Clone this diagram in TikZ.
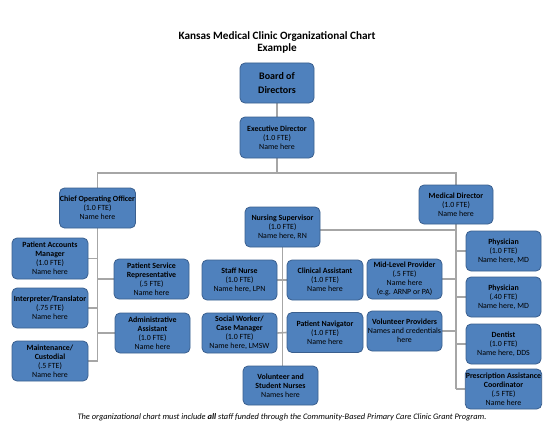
\documentclass[tikz,border=0pt]{standalone}
\usepackage{fontspec}
\setmainfont{Carlito}
\usetikzlibrary{backgrounds}
\definecolor{boxfill}{HTML}{4F81BD}
\definecolor{boxline}{HTML}{3A5F8E}
\definecolor{connline}{HTML}{A6A6A6}
\tikzset{
  orgbox/.style={draw=boxline, fill=boxfill, rounded corners=5pt, line width=0.8pt,
    minimum width=75pt, minimum height=40pt, inner sep=0.5pt, align=center,
    font=\fontsize{7.9}{9.1}\selectfont, text=black},
  conn/.style={draw=connline, line width=1.6pt},
}
\begin{document}
\begin{tikzpicture}[x=1pt,y=-1pt]
\useasboundingbox (0,0) rectangle (554,428);
% title
\node[align=center, font=\fontsize{11.2}{12.5}\selectfont\bfseries] (title) at (277,42.5)
  {Kansas Medical Clinic Organizational Chart\\Example};
% top
\node[orgbox, minimum width=74pt, font=\fontsize{10}{13.5}\selectfont\bfseries] (bod) at (277,83) {Board of\\Directors};
\node[orgbox, minimum width=74pt, minimum height=41pt] (ed) at (277,137.5) {\textbf{Executive Director}\\(1.0 FTE)\\Name here};
% COO branch
\node[orgbox] (coo) at (97.5,208) {\textbf{Chief Operating Officer}\\(1.0 FTE)\\Name here};
\node[orgbox, minimum width=76pt, minimum height=41pt] (pam) at (50,258.5) {\textbf{Patient Accounts}\\\textbf{Manager}\\(1.0 FTE)\\Name here};
\node[orgbox] (psr) at (151.5,279) {\textbf{Patient Service}\\\textbf{Representative}\\(.5 FTE)\\Name here};
\node[orgbox, minimum width=76pt] (int) at (50,308) {\textbf{Interpreter/Translator}\\(.75 FTE)\\Name here};
\node[orgbox] (adm) at (152.5,333) {\textbf{Administrative}\\\textbf{Assistant}\\(1.0 FTE)\\Name here};
\node[orgbox, minimum width=76pt] (mnt) at (50,361) {\textbf{Maintenance/}\\\textbf{Custodial}\\(.5 FTE)\\Name here};
% Nursing branch
\node[orgbox] (ns) at (282.5,227) {\textbf{Nursing Supervisor}\\(1.0 FTE)\\Name here, RN};
\node[orgbox] (sn) at (239.5,280) {\textbf{Staff Nurse}\\(1.0 FTE)\\Name here, LPN};
\node[orgbox, minimum width=76pt] (cla) at (325,280) {\textbf{Clinical Assistant}\\(1.0 FTE)\\Name here};
\node[orgbox] (sw) at (239.5,333) {\textbf{Social Worker/}\\\textbf{Case Manager}\\(1.0 FTE)\\Name here, LMSW};
\node[orgbox, minimum width=76pt] (pn) at (325,332.5) {\textbf{Patient Navigator}\\(1.0 FTE)\\Name here};
\node[orgbox, minimum height=39pt] (vsn) at (280.5,385.5) {\textbf{Volunteer and}\\\textbf{Student Nurses}\\Names here};
% Medical branch
\node[orgbox, minimum width=74pt, minimum height=39pt] (md) at (456,204.5) {\textbf{Medical Director}\\(1.0 FTE)\\Name here};
\node[orgbox] (ph1) at (503.5,251) {\textbf{Physician}\\(1.0 FTE)\\Name here, MD};
\node[orgbox] (ph2) at (503.5,297) {\textbf{Physician}\\(.40 FTE)\\Name here, MD};
\node[orgbox] (den) at (503.5,344) {\textbf{Dentist}\\(1.0 FTE)\\Name here, DDS};
\node[orgbox] (pac) at (503.5,389) {\textbf{Prescription Assistance}\\\textbf{Coordinator}\\(.5 FTE)\\Name here};
\node[orgbox] (mlp) at (404.5,279) {\textbf{Mid-Level Provider}\\(.5 FTE)\\Name here\\(e.g. ARNP or PA)};
\node[orgbox] (vp) at (404.5,331) {\textbf{Volunteer Providers}\\Names and credentials\\here};
% footer
\node[font=\fontsize{8.4}{9}\selectfont\itshape] (foot) at (282,417)
  {The organizational chart must include \textbf{all} staff funded through the Community-Based Primary Care Clinic Grant Program.};
\coordinate (bar) at (277,173);
\begin{scope}[on background layer]
\fill[white] (0,0) rectangle (554,428);
\draw[conn] (bod.south) -- (ed.north);
\draw[conn] (ed.south) -- (bar);
\draw[conn] (coo.north) |- (bar) -| (md.north);
% COO spine
\draw[conn] (coo.south) -- (coo.south |- mnt.east);
\draw[conn] (pam.east) -- (coo.south |- pam.east);
\draw[conn] (int.east) -- (coo.south |- int.east);
\draw[conn] (mnt.east) -- (coo.south |- mnt.east);
\draw[conn] (psr.west) -- (coo.south |- psr.west);
\draw[conn] (adm.west) -- (coo.south |- adm.west);
% nursing
\draw[conn] ([yshift=-3pt]ns.east) -- ([yshift=-3pt]ns.east -| md.south);
\draw[conn] (ns.south) -- (ns.south |- vsn.north);
\draw[conn] (sn.east) -- (cla.west);
\draw[conn] (sw.east) -- (pn.west);
% medical
\draw[conn] (md.south) -- (md.south |- pac.west);
\draw[conn] (ph1.west) -- (md.south |- ph1.west);
\draw[conn] (ph2.west) -- (md.south |- ph2.west);
\draw[conn] (den.west) -- (md.south |- den.west);
\draw[conn] (pac.west) -- (md.south |- pac.west);
\draw[conn] (mlp.east) -- (md.south |- mlp.east);
\draw[conn] (vp.east) -- (md.south |- vp.east);
\end{scope}
\end{tikzpicture}
\end{document}
